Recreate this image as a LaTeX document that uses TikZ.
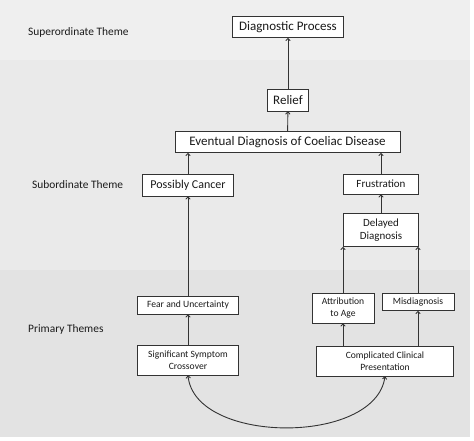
\documentclass[tikz,border=0pt]{standalone}
\usepackage{fontspec}
\setmainfont{Carlito}
\usepackage{xcolor}
\usetikzlibrary{arrows.meta,calc}
\definecolor{bandtop}{HTML}{EFEFEF}
\definecolor{bandmid}{HTML}{EAEAEA}
\definecolor{bandlow}{HTML}{E3E3E3}
\definecolor{edge}{HTML}{333333}
\definecolor{ink}{HTML}{1A1A1A}

\begin{document}
\begin{tikzpicture}[x=1pt,y=1pt,
    >={To[length=3pt,width=5pt]},
    theme/.style={draw=edge,line width=0.9pt,fill=white,text=ink,inner sep=1pt,align=center},
    hugefont/.style={font=\fontsize{13}{15}\selectfont},
    bigfont/.style={font=\fontsize{12}{14}\selectfont},
    midfont/.style={font=\fontsize{11}{13}\selectfont},
    smallfont/.style={font=\fontsize{9.6}{12}\selectfont},
    level/.style={anchor=west,text=ink,inner sep=0pt,font=\fontsize{11.4}{13}\selectfont},
    link/.style={->,draw=edge,line width=0.9pt}]
    % background bands
    \useasboundingbox (0,0) rectangle (474,441);
    \fill[white] (0,0) rectangle (474,441);
    \fill[bandtop] (0,381) rectangle (470,441);
    \fill[bandmid] (0,171) rectangle (470,381);
    \fill[bandlow] (0,4) rectangle (470,171);
    % level labels
    \node[level] (super) at (28,409) {Superordinate Theme};
    \node[level] (sub) at (32,256) {Subordinate Theme};
    \node[level] (primary) at (28,112) {Primary Themes};
    % theme boxes
    \node[theme,hugefont,minimum width=111,minimum height=21] (process) at (288,414) {Diagnostic Process};
    \node[theme,hugefont,minimum width=41,minimum height=22] (relief) at (288,341) {Relief};
    \node[theme,hugefont,minimum width=225,minimum height=21] (eventual) at (287.5,299) {Eventual Diagnosis of Coeliac Disease};
    \node[theme,bigfont,minimum width=91,minimum height=22] (cancer) at (188,256) {Possibly Cancer};
    \node[theme,midfont,minimum width=75,minimum height=20] (frustration) at (381,257) {Frustration};
    \node[theme,midfont,minimum width=75,minimum height=33] (delayed) at (381,211) {Delayed\\Diagnosis};
    \node[theme,smallfont,minimum width=101,minimum height=18] (fear) at (188,136) {Fear and Uncertainty};
    \node[theme,smallfont,minimum width=62,minimum height=30] (age) at (343,133) {Attribution\\to Age};
    \node[theme,smallfont,minimum width=72,minimum height=17] (misdiag) at (418,139) {Misdiagnosis};
    \node[theme,smallfont,minimum width=101,minimum height=30] (crossover) at (188,81) {Significant Symptom\\Crossover};
    \node[theme,smallfont,minimum width=137,minimum height=30] (clinical) at (385,80) {Complicated Clinical\\Presentation};
    % links
    \draw[link] (relief) -- (process);
    \draw[link] (eventual) -- (relief);
    \draw[link] (cancer.north) -- (cancer.north |- eventual.south);
    \draw[link] (frustration.north) -- (frustration.north |- eventual.south);
    \draw[link] (delayed) -- (frustration);
    \draw[link] (fear) -- (cancer);
    \draw[link] (age.north) -- (age.north |- delayed.south);
    \draw[link] (misdiag.north) -- (misdiag.north |- delayed.south);
    \draw[link] (crossover) -- (fear);
    \draw[link] (age.south |- clinical.north) -- (age.south);
    \draw[link] (misdiag.south |- clinical.north) -- (misdiag.south);
    \draw[link,<->] (crossover.south) .. controls ($(crossover.south)+(7,-69)$) and ($(clinical.south)+(-10,-69)$) .. (clinical.south);
\end{tikzpicture}
\end{document}
